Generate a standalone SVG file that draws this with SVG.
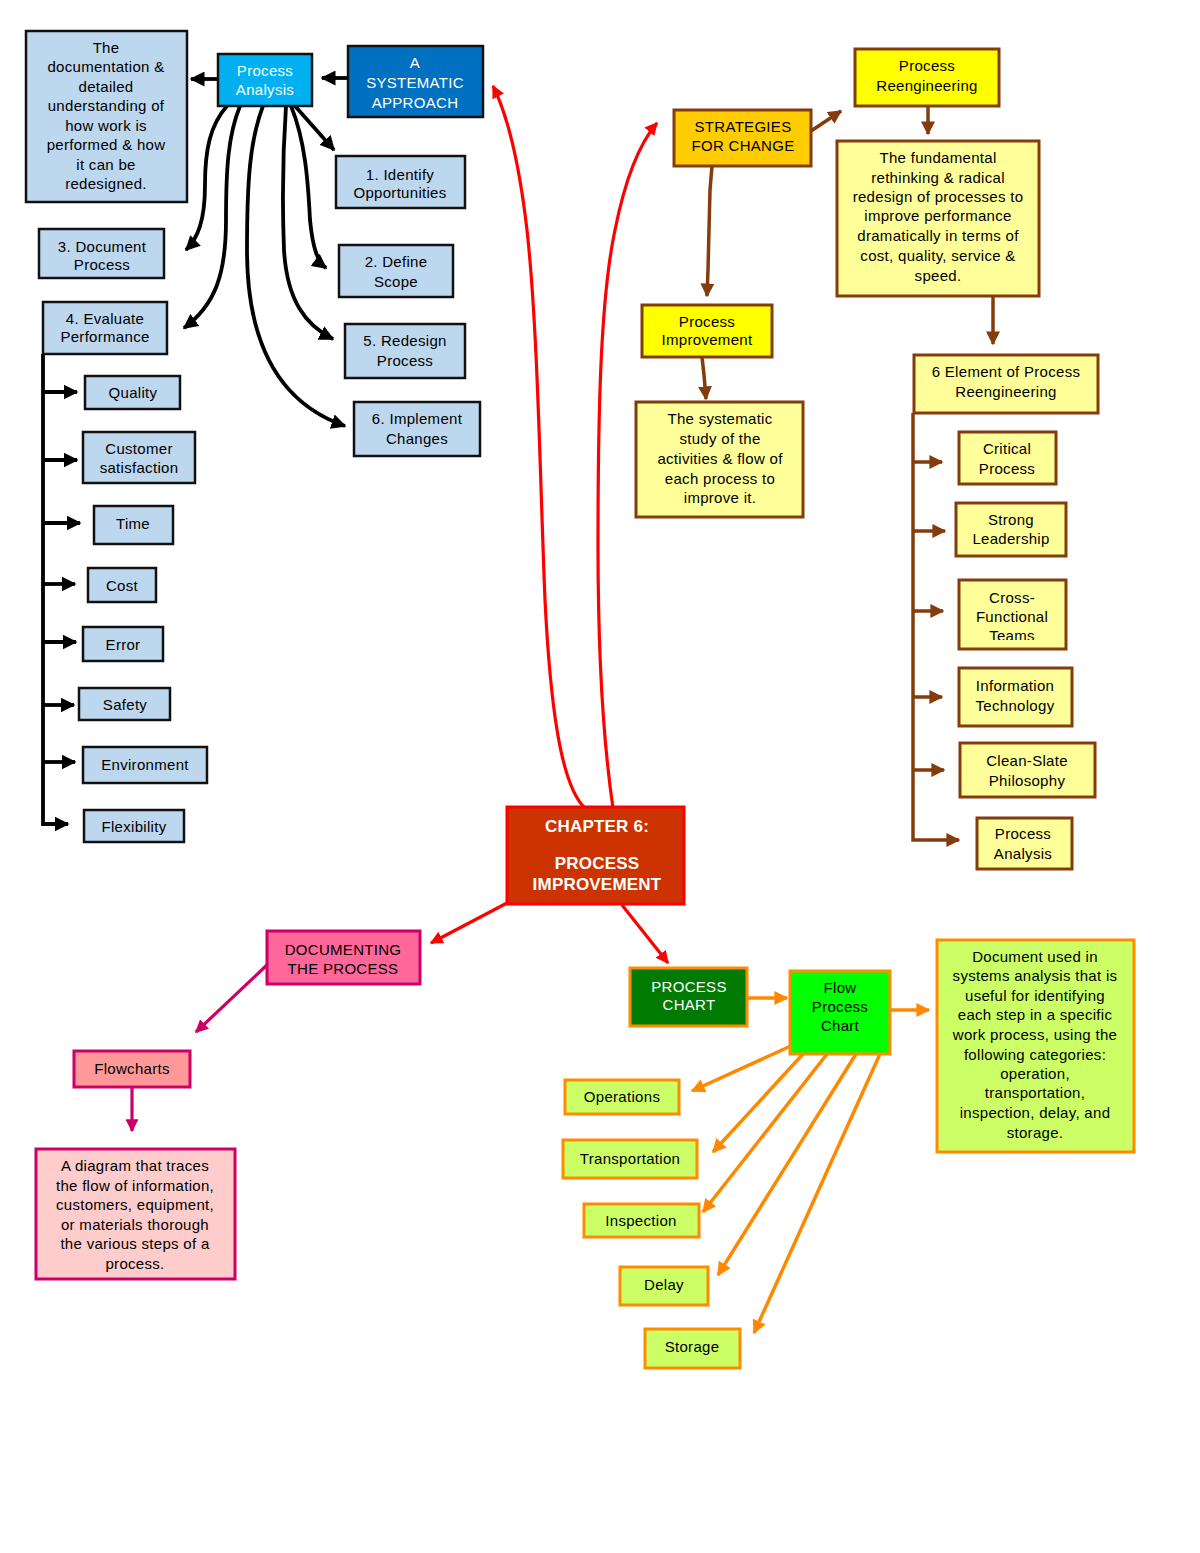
<svg xmlns="http://www.w3.org/2000/svg" width="1200" height="1553" viewBox="0 0 1200 1553">
<style>
text{font-family:"Liberation Sans",Arial,Helvetica,sans-serif;font-size:15px;letter-spacing:0.3px;text-anchor:middle;fill:#000}
.w{fill:#fff}
.cb{font-weight:bold;font-size:17px;letter-spacing:0.2px;fill:#fff}
.blue rect{fill:#BDD7EE;stroke:#111;stroke-width:2.5}
.yel rect{fill:#FFFF00;stroke:#843C0C;stroke-width:3}
.lyel rect{fill:#FFFF99;stroke:#843C0C;stroke-width:3}
.lgr rect{fill:#CCFF66;stroke:#FF8C00;stroke-width:3}
.cb-k{fill:none;stroke:#000;stroke-width:3.8}
.cn-br{fill:none;stroke:#843C0C;stroke-width:3.5}
.cn-r{fill:none;stroke:#FF0000;stroke-width:3.2}
.cn-m{fill:none;stroke:#CC0066;stroke-width:3.2}
.cn-o{fill:none;stroke:#FF8800;stroke-width:3.5}
</style>
<defs>
<marker id="ak" viewBox="0 0 10 10" refX="9" refY="5" markerWidth="15" markerHeight="15" markerUnits="userSpaceOnUse" orient="auto"><path d="M0,0 L10,5 L0,10 z" fill="#000"/></marker>
<marker id="abr" viewBox="0 0 10 10" refX="9" refY="5" markerWidth="14" markerHeight="14" markerUnits="userSpaceOnUse" orient="auto"><path d="M0,0 L10,5 L0,10 z" fill="#843C0C"/></marker>
<marker id="ar" viewBox="0 0 10 10" refX="9" refY="5" markerWidth="13" markerHeight="13" markerUnits="userSpaceOnUse" orient="auto"><path d="M0,0 L10,5 L0,10 z" fill="#FF0000"/></marker>
<marker id="am" viewBox="0 0 10 10" refX="9" refY="5" markerWidth="13" markerHeight="13" markerUnits="userSpaceOnUse" orient="auto"><path d="M0,0 L10,5 L0,10 z" fill="#CC0066"/></marker>
<marker id="ao" viewBox="0 0 10 10" refX="9" refY="5" markerWidth="14" markerHeight="14" markerUnits="userSpaceOnUse" orient="auto"><path d="M0,0 L10,5 L0,10 z" fill="#FF8800"/></marker>
<clipPath id="clipTeams"><rect x="959" y="580" width="108" height="60"/></clipPath>
</defs>
<rect width="1200" height="1553" fill="#fff"/>

<g id="connectors">
<path class="cb-k" d="M218,79 H191" marker-end="url(#ak)"/>
<path class="cb-k" d="M348,78 H322" marker-end="url(#ak)"/>
<path class="cb-k" d="M227,106 C210,125 205,150 205,185 C205,220 198,238 186,250" marker-end="url(#ak)"/>
<path class="cb-k" d="M240,106 C228,135 226,170 226,220 C226,275 215,305 184,328" marker-end="url(#ak)"/>
<path class="cb-k" d="M263,106 C250,140 247,180 247,250 C247,330 270,400 345,426" marker-end="url(#ak)"/>
<path class="cb-k" d="M286,106 C283,150 282,200 284,250 C287,300 305,325 333,339" marker-end="url(#ak)"/>
<path class="cb-k" d="M291,106 C305,140 308,180 310,220 C313,250 318,262 326,268" marker-end="url(#ak)"/>
<path class="cb-k" d="M295,106 L334,150" marker-end="url(#ak)"/>
<path class="cb-k" d="M43,354 V824 H68" marker-end="url(#ak)"/>
<path class="cb-k" d="M43,392 H77" marker-end="url(#ak)"/>
<path class="cb-k" d="M43,460 H77" marker-end="url(#ak)"/>
<path class="cb-k" d="M43,523 H80" marker-end="url(#ak)"/>
<path class="cb-k" d="M43,584 H75" marker-end="url(#ak)"/>
<path class="cb-k" d="M43,642 H76" marker-end="url(#ak)"/>
<path class="cb-k" d="M43,705 H74" marker-end="url(#ak)"/>
<path class="cb-k" d="M43,762 H75" marker-end="url(#ak)"/>
<path class="cn-br" d="M811,131 L841,111" marker-end="url(#abr)"/>
<path class="cn-br" d="M928,106 V134" marker-end="url(#abr)"/>
<path class="cn-br" d="M993,296 V344" marker-end="url(#abr)"/>
<path class="cn-br" d="M712,166 L710,190 L708,270 L707,296" marker-end="url(#abr)"/>
<path class="cn-br" d="M702,357 L704,375 L706,399" marker-end="url(#abr)"/>
<path class="cn-br" d="M913,413 V840 H959" marker-end="url(#abr)"/>
<path class="cn-br" d="M913,462 H942" marker-end="url(#abr)"/>
<path class="cn-br" d="M913,531 H945" marker-end="url(#abr)"/>
<path class="cn-br" d="M913,611 H943" marker-end="url(#abr)"/>
<path class="cn-br" d="M913,697 H942" marker-end="url(#abr)"/>
<path class="cn-br" d="M913,770 H944" marker-end="url(#abr)"/>
<path class="cn-r" d="M585,808 C560,785 550,700 545,600 C540,480 538,330 527,230 C520,170 510,120 493,86" marker-end="url(#ar)"/>
<path class="cn-r" d="M613,808 C603,740 598,650 598,545 C598,420 600,300 615,230 C625,180 638,145 657,123" marker-end="url(#ar)"/>
<path class="cn-r" d="M507,903 L431,943" marker-end="url(#ar)"/>
<path class="cn-r" d="M622,905 L668,963" marker-end="url(#ar)"/>
<path class="cn-m" d="M267,965 L196,1032" marker-end="url(#am)"/>
<path class="cn-m" d="M132,1087 V1131" marker-end="url(#am)"/>
<path class="cn-o" d="M747,998 H787" marker-end="url(#ao)"/>
<path class="cn-o" d="M890,1010 H929" marker-end="url(#ao)"/>
<path class="cn-o" d="M793,1045 L692,1091" marker-end="url(#ao)"/>
<path class="cn-o" d="M803,1054 L713,1152" marker-end="url(#ao)"/>
<path class="cn-o" d="M827,1054 L703,1212" marker-end="url(#ao)"/>
<path class="cn-o" d="M856,1054 L718,1275" marker-end="url(#ao)"/>
<path class="cn-o" d="M880,1054 L754,1333" marker-end="url(#ao)"/>
</g>

<g id="pa-desc" class="blue"><rect x="26" y="31" width="161" height="171"/>
<text x="106" y="53">The</text><text x="106" y="72">documentation &amp;</text><text x="106" y="92">detailed</text><text x="106" y="111">understanding of</text><text x="106" y="131">how work is</text><text x="106" y="150">performed &amp; how</text><text x="106" y="170">it can be</text><text x="106" y="189">redesigned.</text></g>
<g id="process-analysis"><rect x="218" y="54" width="94" height="52" fill="#00B0F0" stroke="#111" stroke-width="2.5"/>
<text class="w" x="265" y="76">Process</text><text class="w" x="265" y="95">Analysis</text></g>
<g id="systematic"><rect x="348" y="46" width="135" height="71" fill="#0070C0" stroke="#111" stroke-width="2.5"/>
<text class="w" x="415" y="68">A</text><text class="w" x="415" y="88">SYSTEMATIC</text><text class="w" x="415" y="108">APPROACH</text></g>
<g id="step1" class="blue"><rect x="336" y="156" width="129" height="52"/><text x="400" y="180">1. Identify</text><text x="400" y="198">Opportunities</text></g>
<g id="step3" class="blue"><rect x="39" y="229" width="125" height="49"/><text x="102" y="252">3. Document</text><text x="102" y="270">Process</text></g>
<g id="step2" class="blue"><rect x="339" y="245" width="114" height="52"/><text x="396" y="267">2. Define</text><text x="396" y="287">Scope</text></g>
<g id="step4" class="blue"><rect x="43" y="302" width="124" height="52"/><text x="105" y="324">4. Evaluate</text><text x="105" y="342">Performance</text></g>
<g id="step5" class="blue"><rect x="345" y="324" width="120" height="54"/><text x="405" y="346">5. Redesign</text><text x="405" y="366">Process</text></g>
<g id="step6" class="blue"><rect x="354" y="402" width="126" height="54"/><text x="417" y="424">6. Implement</text><text x="417" y="444">Changes</text></g>
<g id="quality" class="blue"><rect x="85" y="376" width="95" height="33"/><text x="133" y="398">Quality</text></g>
<g id="customer" class="blue"><rect x="83" y="432" width="112" height="51"/><text x="139" y="454">Customer</text><text x="139" y="473">satisfaction</text></g>
<g id="time" class="blue"><rect x="94" y="506" width="79" height="38"/><text x="133" y="529">Time</text></g>
<g id="cost" class="blue"><rect x="88" y="568" width="68" height="34"/><text x="122" y="591">Cost</text></g>
<g id="error" class="blue"><rect x="83" y="627" width="80" height="34"/><text x="123" y="650">Error</text></g>
<g id="safety" class="blue"><rect x="79" y="688" width="91" height="32"/><text x="125" y="710">Safety</text></g>
<g id="environment" class="blue"><rect x="83" y="747" width="124" height="36"/><text x="145" y="770">Environment</text></g>
<g id="flexibility" class="blue"><rect x="84" y="810" width="100" height="32"/><text x="134" y="832">Flexibility</text></g>

<g id="strategies"><rect x="674" y="110" width="137" height="56" fill="#FFCC00" stroke="#843C0C" stroke-width="3"/><text x="743" y="132">STRATEGIES</text><text x="743" y="151">FOR CHANGE</text></g>
<g id="reengineering" class="yel"><rect x="855" y="49" width="144" height="57"/><text x="927" y="71">Process</text><text x="927" y="91">Reengineering</text></g>
<g id="reeng-desc" class="lyel"><rect x="837" y="141" width="202" height="155"/>
<text x="938" y="163">The fundamental</text><text x="938" y="183">rethinking &amp; radical</text><text x="938" y="202">redesign of processes to</text><text x="938" y="221">improve performance</text><text x="938" y="241">dramatically in terms of</text><text x="938" y="261">cost, quality, service &amp;</text><text x="938" y="281">speed.</text></g>
<g id="six-element" class="lyel"><rect x="914" y="355" width="184" height="58"/><text x="1006" y="377">6 Element of Process</text><text x="1006" y="397">Reengineering</text></g>
<g id="improvement" class="yel"><rect x="642" y="305" width="130" height="52"/><text x="707" y="327">Process</text><text x="707" y="345">Improvement</text></g>
<g id="improvement-desc" class="lyel"><rect x="636" y="402" width="167" height="115"/>
<text x="720" y="424">The systematic</text><text x="720" y="444">study of the</text><text x="720" y="464">activities &amp; flow of</text><text x="720" y="484">each process to</text><text x="720" y="503">improve it.</text></g>
<g id="critical" class="lyel"><rect x="959" y="432" width="97" height="52"/><text x="1007" y="454">Critical</text><text x="1007" y="474">Process</text></g>
<g id="leadership" class="lyel"><rect x="956" y="503" width="110" height="53"/><text x="1011" y="525">Strong</text><text x="1011" y="544">Leadership</text></g>
<g id="cross" class="lyel"><rect x="959" y="580" width="107" height="69"/><text x="1012" y="603">Cross-</text><text x="1012" y="622">Functional</text><text x="1012" y="641" clip-path="url(#clipTeams)">Teams</text></g>
<g id="it" class="lyel"><rect x="959" y="668" width="113" height="58"/><text x="1015" y="691">Information</text><text x="1015" y="711">Technology</text></g>
<g id="cleanslate" class="lyel"><rect x="960" y="743" width="135" height="54"/><text x="1027" y="766">Clean-Slate</text><text x="1027" y="786">Philosophy</text></g>
<g id="pa2" class="lyel"><rect x="977" y="818" width="95" height="51"/><text x="1023" y="839">Process</text><text x="1023" y="859">Analysis</text></g>

<g id="chapter"><rect x="507" y="807" width="177" height="97" fill="#CC3300" stroke="#FF0000" stroke-width="3"/>
<text class="cb" x="597" y="832">CHAPTER 6:</text><text class="cb" x="597" y="869">PROCESS</text><text class="cb" x="597" y="890">IMPROVEMENT</text></g>

<g id="documenting"><rect x="267" y="931" width="153" height="53" fill="#FF6699" stroke="#CC0066" stroke-width="3"/><text x="343" y="955">DOCUMENTING</text><text x="343" y="974">THE PROCESS</text></g>
<g id="flowcharts"><rect x="74" y="1051" width="116" height="36" fill="#FF9999" stroke="#CC0066" stroke-width="3"/><text x="132" y="1074">Flowcharts</text></g>
<g id="flowcharts-desc"><rect x="36" y="1149" width="199" height="130" fill="#FFCCCC" stroke="#CC0066" stroke-width="3"/>
<text x="135" y="1171">A diagram that traces</text><text x="135" y="1191">the flow of information,</text><text x="135" y="1210">customers, equipment,</text><text x="135" y="1230">or materials thorough</text><text x="135" y="1249">the various steps of a</text><text x="135" y="1269">process.</text></g>

<g id="process-chart"><rect x="630" y="968" width="117" height="58" fill="#007A00" stroke="#FF8C00" stroke-width="3"/><text class="w" x="689" y="992">PROCESS</text><text class="w" x="689" y="1010">CHART</text></g>
<g id="flow-process-chart"><rect x="790" y="971" width="100" height="83" fill="#00FF00" stroke="#FF8C00" stroke-width="3"/><text x="840" y="993">Flow</text><text x="840" y="1012">Process</text><text x="840" y="1031">Chart</text></g>
<g id="fpc-desc" class="lgr"><rect x="937" y="940" width="197" height="212"/>
<text x="1035" y="962">Document used in</text><text x="1035" y="981">systems analysis that is</text><text x="1035" y="1001">useful for identifying</text><text x="1035" y="1020">each step in a specific</text><text x="1035" y="1040">work process, using the</text><text x="1035" y="1060">following categories:</text><text x="1035" y="1079">operation,</text><text x="1035" y="1098">transportation,</text><text x="1035" y="1118">inspection, delay, and</text><text x="1035" y="1138">storage.</text></g>
<g id="operations" class="lgr"><rect x="565" y="1080" width="114" height="34"/><text x="622" y="1102">Operations</text></g>
<g id="transportation" class="lgr"><rect x="563" y="1140" width="134" height="38"/><text x="630" y="1164">Transportation</text></g>
<g id="inspection" class="lgr"><rect x="584" y="1204" width="115" height="33"/><text x="641" y="1226">Inspection</text></g>
<g id="delay" class="lgr"><rect x="620" y="1267" width="88" height="38"/><text x="664" y="1290">Delay</text></g>
<g id="storage" class="lgr"><rect x="645" y="1329" width="95" height="39"/><text x="692" y="1352">Storage</text></g>
</svg>
